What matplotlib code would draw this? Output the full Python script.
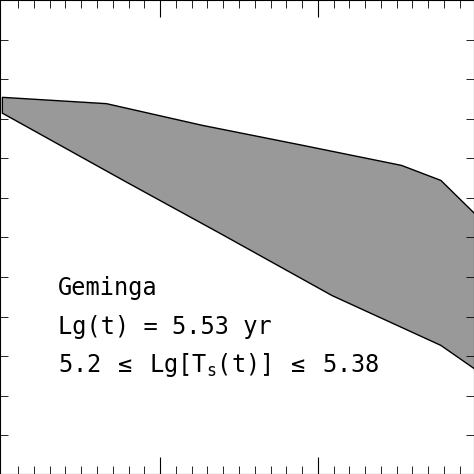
import matplotlib
matplotlib.use("Agg")
import matplotlib.pyplot as plt
import numpy as np

plt.rcParams['mathtext.fontset'] = 'custom'
plt.rcParams['mathtext.rm'] = 'DejaVu Sans Mono'
plt.rcParams['mathtext.it'] = 'DejaVu Sans Mono'

upper_x = [0.0, 6.6, 12.7, 19.0, 25.3, 27.8, 30.0]
upper_y = [9.54, 9.38, 8.83, 8.33, 7.82, 7.44, 6.58]
lower_x = [0.0, 7.9, 13.9, 20.9, 27.8, 30.0]
lower_y = [9.14, 7.39, 6.08, 4.53, 3.27, 2.66]

fig = plt.figure(figsize=(4.74, 4.74), dpi=100)
ax = fig.add_axes([0, 0, 1, 1])
xs = upper_x + lower_x[::-1]
ys = upper_y + lower_y[::-1]
ax.fill(xs, ys, facecolor='#999999', edgecolor='black', lw=1)
ax.set_xlim(-0.15, 29.9)
ax.set_ylim(0.02, 12.0)
ax.set_xticks([10, 20])
ax.set_xticks(np.arange(1, 30), minor=True)
ax.set_yticks(np.arange(1, 12), minor=True)
ax.set_yticks([])
ax.tick_params(which='both', direction='in', top=True, right=True, labelbottom=False, labelleft=False)
ax.tick_params(which='major', length=12)
ax.tick_params(which='minor', length=6)
kw = dict(fontsize=17, family='DejaVu Sans Mono', color='black')
ax.text(3.5, 4.55, 'Geminga', **kw)
ax.text(3.5, 3.55, 'Lg(t) = 5.53 yr', **kw)
ax.text(3.5, 2.6, r'5.2 $\leq$ Lg[T$_\mathrm{s}$(t)] $\leq$ 5.38', **kw)
fig.savefig('out.png', dpi=100)
